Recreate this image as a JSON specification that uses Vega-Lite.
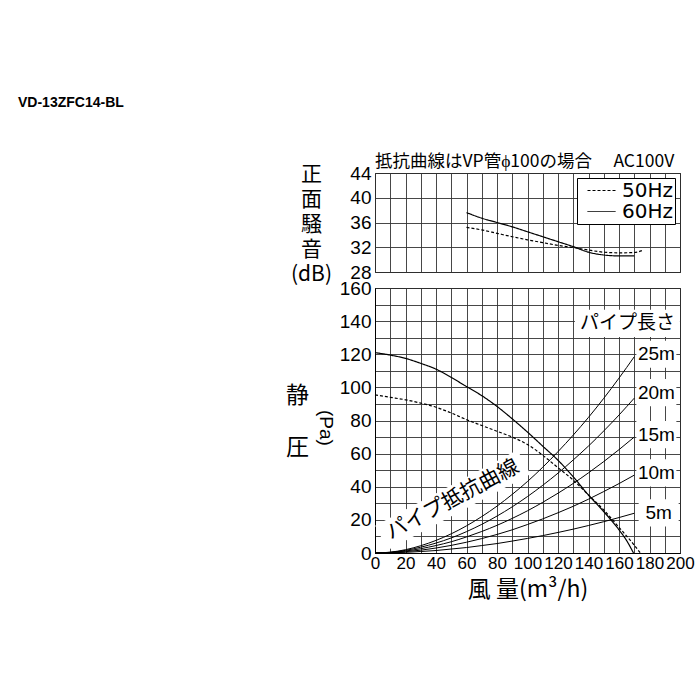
{
  "$schema": "https://vega.github.io/schema/vega-lite/v6.json",
  "padding": {"left": 18, "top": 96, "right": 0, "bottom": 0},
  "background": "white",
  "title": {"text": "VD-13ZFC14-BL", "anchor": "start", "frame": "group", "font": "Liberation Sans", "fontSize": 14, "fontWeight": "bold", "color": "black", "dx": -357, "offset": 42},
  "bounds": "flush",
  "spacing": 16,
  "datasets": {
    "noise": [
      {"q": 60, "db": 37.6, "hz": "60Hz"}, {"q": 70, "db": 36.7, "hz": "60Hz"}, {"q": 80, "db": 36.0, "hz": "60Hz"}, {"q": 90, "db": 35.3, "hz": "60Hz"}, {"q": 100, "db": 34.5, "hz": "60Hz"}, {"q": 110, "db": 33.7, "hz": "60Hz"}, {"q": 120, "db": 32.9, "hz": "60Hz"}, {"q": 130, "db": 32.1, "hz": "60Hz"}, {"q": 140, "db": 31.2, "hz": "60Hz"}, {"q": 150, "db": 30.75, "hz": "60Hz"}, {"q": 160, "db": 30.6, "hz": "60Hz"}, {"q": 170, "db": 30.6, "hz": "60Hz"},
      {"q": 60, "db": 35.2, "hz": "50Hz"}, {"q": 70, "db": 34.8, "hz": "50Hz"}, {"q": 80, "db": 34.25, "hz": "50Hz"}, {"q": 90, "db": 33.7, "hz": "50Hz"}, {"q": 100, "db": 33.2, "hz": "50Hz"}, {"q": 110, "db": 32.75, "hz": "50Hz"}, {"q": 120, "db": 32.3, "hz": "50Hz"}, {"q": 130, "db": 31.95, "hz": "50Hz"}, {"q": 140, "db": 31.55, "hz": "50Hz"}, {"q": 150, "db": 31.2, "hz": "50Hz"}, {"q": 160, "db": 31.1, "hz": "50Hz"}, {"q": 170, "db": 31.15, "hz": "50Hz"}, {"q": 175, "db": 31.45, "hz": "50Hz"}
    ],
    "fan": [
      {"q": 0, "pa": 121, "hz": "60Hz"}, {"q": 10, "pa": 119.5, "hz": "60Hz"}, {"q": 20, "pa": 117.5, "hz": "60Hz"}, {"q": 30, "pa": 114.5, "hz": "60Hz"}, {"q": 40, "pa": 111, "hz": "60Hz"}, {"q": 50, "pa": 106, "hz": "60Hz"}, {"q": 60, "pa": 100.5, "hz": "60Hz"}, {"q": 70, "pa": 95, "hz": "60Hz"}, {"q": 80, "pa": 88.5, "hz": "60Hz"}, {"q": 90, "pa": 81, "hz": "60Hz"}, {"q": 100, "pa": 73, "hz": "60Hz"}, {"q": 110, "pa": 64.5, "hz": "60Hz"}, {"q": 120, "pa": 56, "hz": "60Hz"}, {"q": 130, "pa": 46, "hz": "60Hz"}, {"q": 140, "pa": 35, "hz": "60Hz"}, {"q": 150, "pa": 25, "hz": "60Hz"}, {"q": 160, "pa": 14, "hz": "60Hz"}, {"q": 165, "pa": 7.5, "hz": "60Hz"}, {"q": 169.5, "pa": 0, "hz": "60Hz"},
      {"q": 0, "pa": 95.5, "hz": "50Hz"}, {"q": 10, "pa": 94, "hz": "50Hz"}, {"q": 20, "pa": 92.5, "hz": "50Hz"}, {"q": 30, "pa": 90.5, "hz": "50Hz"}, {"q": 40, "pa": 88, "hz": "50Hz"}, {"q": 50, "pa": 84.5, "hz": "50Hz"}, {"q": 60, "pa": 80.5, "hz": "50Hz"}, {"q": 70, "pa": 77, "hz": "50Hz"}, {"q": 80, "pa": 73.5, "hz": "50Hz"}, {"q": 90, "pa": 70, "hz": "50Hz"}, {"q": 100, "pa": 65.5, "hz": "50Hz"}, {"q": 110, "pa": 59, "hz": "50Hz"}, {"q": 120, "pa": 51.5, "hz": "50Hz"}, {"q": 130, "pa": 44, "hz": "50Hz"}, {"q": 140, "pa": 35, "hz": "50Hz"}, {"q": 150, "pa": 26, "hz": "50Hz"}, {"q": 160, "pa": 15.5, "hz": "50Hz"}, {"q": 168, "pa": 7, "hz": "50Hz"}, {"q": 174, "pa": 0, "hz": "50Hz"}
    ],
    "pipe": [
      {"q": 0, "pa": 0, "len": "25m"}, {"q": 10, "pa": 0.5, "len": "25m"}, {"q": 20, "pa": 2.0, "len": "25m"}, {"q": 30, "pa": 4.4, "len": "25m"}, {"q": 40, "pa": 7.6, "len": "25m"}, {"q": 50, "pa": 11.6, "len": "25m"}, {"q": 60, "pa": 16.4, "len": "25m"}, {"q": 70, "pa": 22.0, "len": "25m"}, {"q": 80, "pa": 28.3, "len": "25m"}, {"q": 90, "pa": 35.4, "len": "25m"}, {"q": 100, "pa": 43.2, "len": "25m"}, {"q": 110, "pa": 51.8, "len": "25m"}, {"q": 120, "pa": 61.2, "len": "25m"}, {"q": 130, "pa": 71.2, "len": "25m"}, {"q": 140, "pa": 81.9, "len": "25m"}, {"q": 150, "pa": 93.4, "len": "25m"}, {"q": 160, "pa": 105.6, "len": "25m"}, {"q": 170, "pa": 118.5, "len": "25m"},
      {"q": 0, "pa": 0, "len": "20m"}, {"q": 10, "pa": 0.4, "len": "20m"}, {"q": 20, "pa": 1.6, "len": "20m"}, {"q": 30, "pa": 3.5, "len": "20m"}, {"q": 40, "pa": 6.0, "len": "20m"}, {"q": 50, "pa": 9.1, "len": "20m"}, {"q": 60, "pa": 12.9, "len": "20m"}, {"q": 70, "pa": 17.3, "len": "20m"}, {"q": 80, "pa": 22.3, "len": "20m"}, {"q": 90, "pa": 27.9, "len": "20m"}, {"q": 100, "pa": 34.1, "len": "20m"}, {"q": 110, "pa": 40.9, "len": "20m"}, {"q": 120, "pa": 48.2, "len": "20m"}, {"q": 130, "pa": 56.2, "len": "20m"}, {"q": 140, "pa": 64.6, "len": "20m"}, {"q": 150, "pa": 73.7, "len": "20m"}, {"q": 160, "pa": 83.3, "len": "20m"}, {"q": 170, "pa": 93.5, "len": "20m"},
      {"q": 0, "pa": 0, "len": "15m"}, {"q": 10, "pa": 0.3, "len": "15m"}, {"q": 20, "pa": 1.2, "len": "15m"}, {"q": 30, "pa": 2.6, "len": "15m"}, {"q": 40, "pa": 4.5, "len": "15m"}, {"q": 50, "pa": 6.8, "len": "15m"}, {"q": 60, "pa": 9.7, "len": "15m"}, {"q": 70, "pa": 13.0, "len": "15m"}, {"q": 80, "pa": 16.7, "len": "15m"}, {"q": 90, "pa": 20.9, "len": "15m"}, {"q": 100, "pa": 25.5, "len": "15m"}, {"q": 110, "pa": 30.6, "len": "15m"}, {"q": 120, "pa": 36.1, "len": "15m"}, {"q": 130, "pa": 42.0, "len": "15m"}, {"q": 140, "pa": 48.4, "len": "15m"}, {"q": 150, "pa": 55.2, "len": "15m"}, {"q": 160, "pa": 62.4, "len": "15m"}, {"q": 170, "pa": 70, "len": "15m"},
      {"q": 0, "pa": 0, "len": "10m"}, {"q": 10, "pa": 0.2, "len": "10m"}, {"q": 20, "pa": 0.8, "len": "10m"}, {"q": 30, "pa": 1.7, "len": "10m"}, {"q": 40, "pa": 3.0, "len": "10m"}, {"q": 50, "pa": 4.6, "len": "10m"}, {"q": 60, "pa": 6.5, "len": "10m"}, {"q": 70, "pa": 8.7, "len": "10m"}, {"q": 80, "pa": 11.2, "len": "10m"}, {"q": 90, "pa": 14.0, "len": "10m"}, {"q": 100, "pa": 17.2, "len": "10m"}, {"q": 110, "pa": 20.6, "len": "10m"}, {"q": 120, "pa": 24.3, "len": "10m"}, {"q": 130, "pa": 28.2, "len": "10m"}, {"q": 140, "pa": 32.5, "len": "10m"}, {"q": 150, "pa": 37.1, "len": "10m"}, {"q": 160, "pa": 41.9, "len": "10m"}, {"q": 170, "pa": 47, "len": "10m"},
      {"q": 0, "pa": 0, "len": "5m"}, {"q": 10, "pa": 0.1, "len": "5m"}, {"q": 20, "pa": 0.4, "len": "5m"}, {"q": 30, "pa": 0.9, "len": "5m"}, {"q": 40, "pa": 1.5, "len": "5m"}, {"q": 50, "pa": 2.4, "len": "5m"}, {"q": 60, "pa": 3.3, "len": "5m"}, {"q": 70, "pa": 4.5, "len": "5m"}, {"q": 80, "pa": 5.7, "len": "5m"}, {"q": 90, "pa": 7.2, "len": "5m"}, {"q": 100, "pa": 8.8, "len": "5m"}, {"q": 110, "pa": 10.5, "len": "5m"}, {"q": 120, "pa": 12.4, "len": "5m"}, {"q": 130, "pa": 14.4, "len": "5m"}, {"q": 140, "pa": 16.6, "len": "5m"}, {"q": 150, "pa": 18.9, "len": "5m"}, {"q": 160, "pa": 21.4, "len": "5m"}, {"q": 170, "pa": 24, "len": "5m"}
    ],
    "pipeLabels": [
      {"label": "25m", "q": 184.5, "pa": 120},
      {"label": "20m", "q": 184.5, "pa": 96.8},
      {"label": "15m", "q": 184.5, "pa": 71.5},
      {"label": "10m", "q": 184.5, "pa": 48.4},
      {"label": "5m", "q": 186, "pa": 24.2}
    ],
    "headLabel": [{"label": "パイプ長さ", "q": 165.5, "pa": 138.6}],
    "curveLabel": [{"label": "パイプ抵抗曲線", "q": 51, "pa": 32}],
    "unitLabel": [{"label": "(Pa)", "q": -32, "pa": 75.5}]
  },
  "config": {
    "view": {"stroke": "black", "strokeWidth": 1},
    "font": "Liberation Sans",
    "axis": {"gridColor": "#333333", "gridWidth": 0.9, "gridOpacity": 1, "domainColor": "black", "domainWidth": 1, "ticks": false, "labelColor": "black", "titleColor": "black", "labelFlush": false, "labelOverlap": false}
  },
  "vconcat": [
    {
      "width": 305,
      "height": 99,
      "title": {"text": "抵抗曲線はVP管ϕ100の場合　 AC100V", "anchor": "start", "frame": "group", "font": "Noto Sans CJK JP", "fontSize": 17.5, "fontWeight": "normal", "color": "black", "offset": -7},
      "data": {"name": "noise"},
      "mark": {"type": "line", "color": "black", "strokeWidth": 1.2, "interpolate": "monotone"},
      "encoding": {
        "x": {"field": "q", "type": "quantitative", "scale": {"domain": [0, 200]}, "axis": {"values": [0,10,20,30,40,50,60,70,80,90,100,110,120,130,140,150,160,170,180,190,200], "labels": false, "title": null, "domain": false}},
        "y": {"field": "db", "type": "quantitative", "scale": {"domain": [28, 44]}, "axis": {"values": [28,32,36,40,44], "labelFontSize": 19, "labelPadding": 4, "domain": false, "title": ["正","面","騒","音","(dB)"], "titleAngle": 0, "titleAlign": "center", "titleBaseline": "top", "titleX": -64, "titleY": -10, "titleFontSize": 21, "titleLineHeight": 25, "titleFont": "Noto Sans CJK JP", "titleFontWeight": "normal"}},
        "strokeDash": {"field": "hz", "type": "nominal", "scale": {"domain": ["50Hz", "60Hz"], "range": [[3, 2], [1, 0]]}, "legend": {"orient": "top-right", "offset": 5, "title": null, "fillColor": "white", "strokeColor": "black", "padding": 2, "symbolType": "M-1.4,0H1.4", "symbolSize": 400, "symbolStrokeColor": "black", "symbolStrokeWidth": 1, "symbolOffset": 12, "labelOffset": 10, "labelFont": "DejaVu Sans", "labelFontSize": 20, "labelColor": "black", "rowPadding": -3}}
      }
    },
    {
      "width": 305,
      "height": 265,
      "resolve": {"axis": {"x": "independent", "y": "independent"}},
      "encoding": {
        "x": {"field": "q", "type": "quantitative", "scale": {"domain": [0, 200]}, "axis": null},
        "y": {"field": "pa", "type": "quantitative", "scale": {"domain": [0, 160]}, "axis": null}
      },
      "layer": [
        {"data": {"name": "pipe"}, "mark": {"type": "line", "color": "black", "strokeWidth": 1, "interpolate": "monotone"},
         "encoding": {
           "x": {"field": "q", "type": "quantitative", "scale": {"domain": [0, 200]}, "axis": {"orient": "bottom", "values": [0,10,20,30,40,50,60,70,80,90,100,110,120,130,140,150,160,170,180,190,200], "labels": false, "domain": false, "title": null, "grid": true}},
           "y": {"field": "pa", "type": "quantitative", "scale": {"domain": [0, 160]}, "axis": {"orient": "left", "values": [0,10,20,30,40,50,60,70,80,90,100,110,120,130,140,150,160], "labels": false, "domain": false, "title": null, "grid": true}},
           "detail": {"field": "len", "type": "nominal"}}},
        {"data": {"name": "fan"}, "mark": {"type": "line", "color": "black", "strokeWidth": 1.2, "interpolate": "monotone"},
         "encoding": {
           "x": {"field": "q", "type": "quantitative", "scale": {"domain": [0, 200]}, "axis": {"orient": "bottom", "values": [0,20,40,60,80,100,120,140,160,180,200], "grid": false, "labelFont": "Liberation Sans", "labelFontSize": 17, "labelPadding": 2, "title": "風 量(m³/h)", "titleFont": "Noto Sans CJK JP", "titleFontSize": 23, "titleFontWeight": "normal", "titlePadding": 7}},
           "y": {"field": "pa", "type": "quantitative", "scale": {"domain": [0, 160]}, "axis": {"orient": "left", "values": [0,20,40,60,80,100,120,140,160], "grid": false, "labelFontSize": 19, "labelPadding": 4, "title": ["静","圧"], "titleAngle": 0, "titleAlign": "center", "titleBaseline": "top", "titleX": -78, "titleY": 96, "titleFontSize": 23, "titleLineHeight": 52, "titleFont": "Noto Sans CJK JP", "titleFontWeight": "normal"}},
           "strokeDash": {"field": "hz", "type": "nominal", "scale": {"domain": ["50Hz", "60Hz"], "range": [[3, 2], [1, 0]]}, "legend": null}}},
        {"data": {"name": "pipeLabels"}, "mark": {"type": "point", "shape": "M-1,-0.68H1V0.68H-1Z", "size": 1600, "filled": true, "fill": "white", "opacity": 1, "strokeWidth": 0}},
        {"data": {"name": "pipeLabels"}, "mark": {"type": "text", "font": "Liberation Sans", "fontSize": 19, "color": "black", "align": "center", "baseline": "middle"}, "encoding": {"text": {"field": "label"}}},
        {"data": {"name": "headLabel"}, "mark": {"type": "point", "shape": "M-1,-0.26H1V0.26H-1Z", "size": 11025, "filled": true, "fill": "white", "opacity": 1, "strokeWidth": 0}},
        {"data": {"name": "headLabel"}, "mark": {"type": "text", "font": "Noto Sans CJK JP", "fontSize": 19, "color": "black", "align": "center", "baseline": "middle"}, "encoding": {"text": {"field": "label"}}},
        {"data": {"name": "curveLabel"}, "mark": {"type": "point", "shape": "M-1,-0.17H1V0.17H-1Z", "size": 26000, "angle": -28, "filled": true, "fill": "white", "opacity": 1, "strokeWidth": 0}},
        {"data": {"name": "curveLabel"}, "mark": {"type": "text", "font": "Noto Sans CJK JP", "fontSize": 21, "angle": -28, "color": "black", "align": "center", "baseline": "middle"}, "encoding": {"text": {"field": "label"}}},
        {"data": {"name": "unitLabel"}, "mark": {"type": "text", "font": "Liberation Sans", "fontSize": 19, "angle": 90, "color": "black", "align": "center", "baseline": "middle"}, "encoding": {"text": {"field": "label"}}}
      ]
    }
  ]
}
